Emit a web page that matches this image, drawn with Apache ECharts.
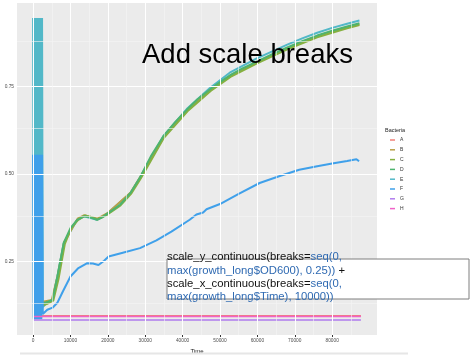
<!DOCTYPE html>
<html><head><meta charset="utf-8">
<script src="https://cdn.jsdelivr.net/npm/echarts@6/dist/echarts.min.js"></script>
<style>html,body{margin:0;padding:0;background:#fff}#c{width:474px;height:355px}</style>
</head><body><div id="c"></div>
<script>
const categories = ['A','B','C','D','E','F','G','H'];
const xTicks = [0,10000,20000,30000,40000,50000,60000,70000,80000];
const xMinor = [5000,15000,25000,35000,45000,55000,65000,75000,85000];
const yTicks = [0.25,0.5,0.75];
const yTickLabels = ['0.25','0.50','0.75'];
const yMinor = [0.125,0.375,0.625,0.875];

const seriesA = [[0,0.094],[30000,0.094],[60000,0.094],[87700,0.094]];
const seriesB = [[2600,0.135],[5000,0.14],[6600,0.21],[8300,0.305],[11900,0.372],[13700,0.382],[17200,0.372],[19900,0.388],[26100,0.447],[28700,0.492],[34900,0.605],[41200,0.682],[47400,0.74],[52700,0.78],[59800,0.819],[68000,0.859],[76000,0.893],[84000,0.919],[87300,0.927]];
const seriesC = [[2600,0.125],[4000,0.13],[5400,0.138],[6800,0.2],[8500,0.3],[10200,0.345],[12000,0.368],[13900,0.381],[15500,0.377],[17300,0.37],[19900,0.384],[23400,0.41],[26200,0.443],[28800,0.487],[35000,0.603],[41300,0.679],[47500,0.737],[52800,0.777],[59900,0.816],[68000,0.856],[76000,0.89],[84000,0.916],[87300,0.925]];
const seriesD = [[2600,0.13],[4000,0.135],[5200,0.14],[6500,0.207],[8200,0.303],[10000,0.345],[11800,0.369],[13600,0.379],[15300,0.376],[17100,0.369],[18500,0.376],[19800,0.386],[23300,0.412],[26000,0.445],[28600,0.49],[31500,0.55],[34800,0.607],[38000,0.648],[41100,0.683],[44000,0.713],[47300,0.741],[50000,0.762],[52600,0.781],[56000,0.801],[59700,0.82],[64000,0.842],[68000,0.861],[72000,0.879],[76000,0.895],[80000,0.909],[84000,0.921],[87300,0.93]];
const seriesE = [[0,0.945],[200,0.09],[400,0.945],[600,0.09],[800,0.945],[1000,0.09],[1200,0.945],[1400,0.09],[1600,0.945],[1800,0.09],[2000,0.945],[2200,0.09],[2400,0.945],[2600,0.12],[4000,0.135],[5200,0.14],[6500,0.207],[8200,0.303],[11800,0.369],[13600,0.379],[17100,0.369],[19800,0.386],[26000,0.445],[28600,0.49],[34800,0.607],[41100,0.685],[47300,0.745],[52600,0.789],[59700,0.829],[64000,0.85],[68000,0.869],[72000,0.887],[76000,0.903],[80000,0.917],[84000,0.929],[87300,0.938]];
const seriesF = [[0,0.555],[200,0.085],[400,0.555],[600,0.085],[800,0.555],[1000,0.085],[1200,0.555],[1400,0.085],[1600,0.555],[1800,0.085],[2000,0.555],[2200,0.085],[2400,0.555],[2600,0.1],[3800,0.112],[5200,0.118],[6500,0.132],[8000,0.165],[10000,0.207],[12000,0.23],[14500,0.245],[16000,0.244],[17500,0.24],[19000,0.252],[20200,0.264],[24000,0.275],[28600,0.288],[33000,0.31],[37000,0.335],[41900,0.369],[43700,0.384],[45500,0.39],[46400,0.399],[50000,0.414],[55000,0.443],[60600,0.474],[66000,0.494],[71200,0.512],[76000,0.522],[80000,0.53],[84000,0.537],[86500,0.542],[87200,0.536]];
const seriesG = [[0,0.083],[30000,0.083],[60000,0.083],[87700,0.083]];
const seriesH = [[0,0.093],[30000,0.093],[60000,0.093],[87700,0.093]];

const colors = ['#F08078','#B8A048','#86B040','#4DB46E','#52B8C8','#3FA0EA','#B07CEE','#F062C8'];
const allData = [seriesA,seriesB,seriesC,seriesD,seriesE,seriesF,seriesG,seriesH];
const zs = [3,3,3,3,2,3,4,4];
const widths = [2,2,2,2,2,2,1.6,1.6];

const chart = echarts.init(document.getElementById('c'), null, {renderer:'canvas'});

const gridMarks = [];
yTicks.forEach(v=>gridMarks.push({yAxis:v, lineStyle:{color:'#FFFFFF', width:1, type:'solid'}}));
yMinor.forEach(v=>gridMarks.push({yAxis:v, lineStyle:{color:'#F5F5F5', width:0.6, type:'solid'}}));
xTicks.forEach(v=>gridMarks.push({xAxis:v, lineStyle:{color:'#FFFFFF', width:1, type:'solid'}}));
xMinor.forEach(v=>gridMarks.push({xAxis:v, lineStyle:{color:'#F5F5F5', width:0.6, type:'solid'}}));

const series = [{
  name:'grid', type:'line', data:[], z:1, silent:true,
  markLine:{silent:true, symbol:['none','none'], label:{show:false}, animation:false, data:gridMarks}
}];
categories.forEach((c,i)=>{
  series.push({name:c, type:'line', data:allData[i], showSymbol:false, symbol:'none', z:zs[i],
    lineStyle:{color:colors[i], width:widths[i]}, itemStyle:{color:colors[i]}, animation:false});
});

const option = {
  backgroundColor:'#FFFFFF',
  animation:false,
  grid:{left:17, top:3, width:360, height:332, show:true, backgroundColor:'#EBEBEB', borderWidth:0, containLabel:false, outerBoundsMode:'none'},
  xAxis:{type:'value', min:-4300, max:92000,
    axisLine:{show:false}, splitLine:{show:false},
    axisTick:{show:true, length:2, lineStyle:{color:'#333'}, customValues:xTicks},
    axisLabel:{fontSize:4.8, color:'#4D4D4D', margin:3, customValues:xTicks, formatter:(v)=>String(v), fontFamily:'Liberation Sans'},
    name:'Time', nameLocation:'middle', nameGap:13, nameTextStyle:{fontSize:6, color:'#222', fontFamily:'Liberation Sans'}},
  yAxis:{type:'value', min:0.04, max:0.988,
    axisLine:{show:false}, splitLine:{show:false},
    axisTick:{show:true, length:2, lineStyle:{color:'#333'}, customValues:yTicks},
    axisLabel:{fontSize:4.8, color:'#4D4D4D', margin:3, customValues:yTicks,
      formatter:(v)=>{const k=yTicks.indexOf(v); return k>=0?yTickLabels[k]:'';}, fontFamily:'Liberation Sans'},
    name:'OD600', nameLocation:'middle', nameGap:12, nameTextStyle:{fontSize:6, color:'#222', fontFamily:'Liberation Sans'}},
  legend:{data:categories, orient:'vertical', left:385, top:132, icon:'rect', itemWidth:5, itemHeight:1.5, itemGap:3.8,
    textStyle:{fontSize:5, lineHeight:6, color:'#333', fontFamily:'Liberation Sans'}, selectedMode:false},
  series:series,
  graphic:[
    {type:'text', x:385, y:130, z:10, style:{text:'Bacteria', fontSize:5.5, fill:'#222', fontFamily:'Liberation Sans', verticalAlign:'middle'}},
    {type:'text', x:142, y:55, z:20, style:{text:'Add scale breaks', fontSize:27.5, fill:'#000', fontFamily:'Liberation Sans', verticalAlign:'middle'}},
    {type:'rect', x:167, y:259, z:15, shape:{width:302, height:40}, style:{fill:'#FFFFFF', stroke:'#7F7F7F', lineWidth:1}},
    {type:'text', x:167, y:250.3, z:20, style:{
      text:'{k|scale_y_continuous(breaks=}{b|seq(0,}\n{b|max(growth_long$OD600), 0.25))}{k| +}\n{k|scale_x_continuous(breaks=}{b|seq(0,}\n{b|max(growth_long$Time), 10000))}',
      verticalAlign:'top', fontFamily:'Liberation Sans', fontSize:11.3, lineHeight:13.4,
      rich:{k:{fill:'#111', fontSize:11.3, lineHeight:13.4, fontFamily:'Liberation Sans'}, b:{fill:'#2F6AB2', fontSize:11.3, lineHeight:13.4, fontFamily:'Liberation Sans'}}}},
    {type:'line', z:5, shape:{x1:20, y1:353.5, x2:408, y2:353.5}, style:{stroke:'#E6E6E6', lineWidth:2}}
  ]
};
chart.setOption(option);
</script></body></html>
